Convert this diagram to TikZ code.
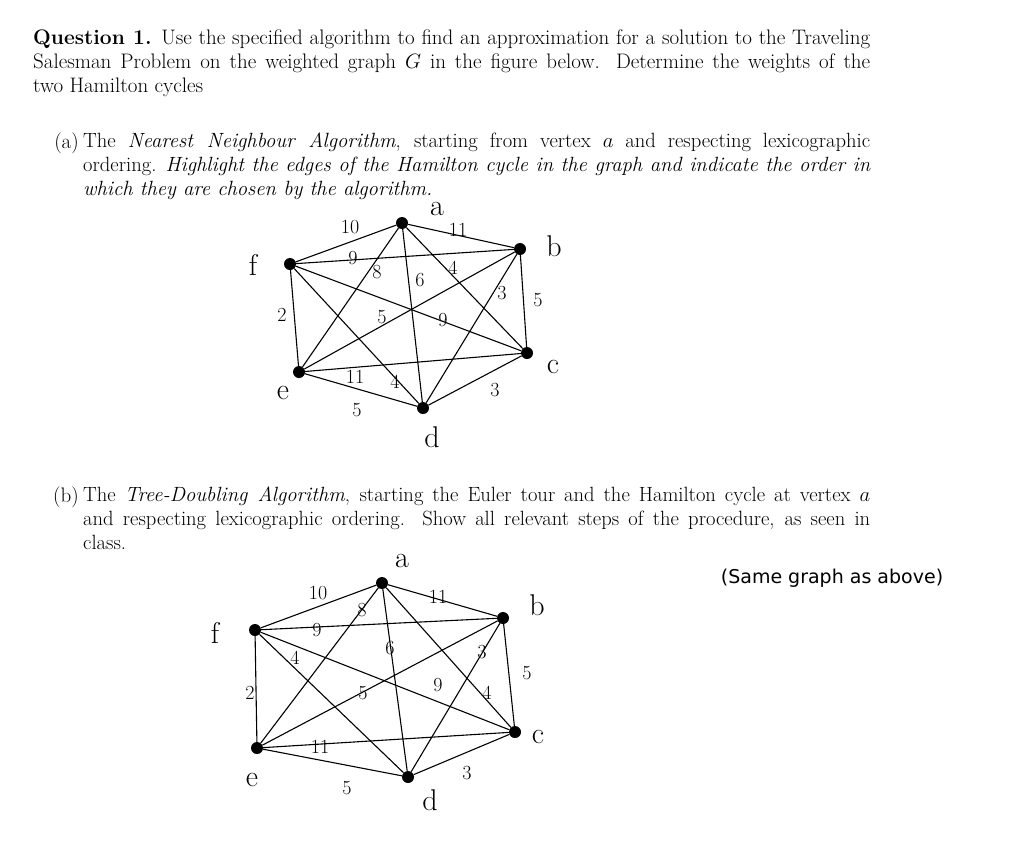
\documentclass[tikz,border=0pt]{standalone}
\usepackage{fontspec}
\newfontfamily\hand{DejaVu Sans}
\begin{document}
\begin{tikzpicture}[x=1pt,y=-1pt,
  vtx/.style={circle,fill=black,inner sep=0pt,minimum size=12pt},
  edge/.style={line width=1.1pt},
  wt/.style={font=\fontsize{20}{20}\selectfont,inner sep=0pt},
  vl/.style={font=\fontsize{30}{30}\selectfont,inner sep=0pt},
  para/.style={anchor=north west,inner sep=0pt,align=justify,font=\fontsize{21}{24}\selectfont}]
\useasboundingbox (0,0) rectangle (1024,841);
\node[para,text width=837pt] (q) at (33,30) {\textbf{Question 1.} Use the specified algorithm to find an approximation for a solution to the Traveling\linebreak Salesman Problem on the weighted graph $G$ in the figure below. Determine the weights of the\linebreak two Hamilton cycles};
\node[para,anchor=north east] (la) at (79,133) {(a)};
\node[para,text width=787pt,font=\fontsize{20.6}{24}\selectfont] (ta) at (83,133) {\hyphenpenalty=10000 The \textit{Nearest Neighbour Algorithm}, starting from vertex $a$ and respecting lexicographic\linebreak ordering. \textit{Highlight the edges of the Hamilton cycle in the graph and indicate the order in\linebreak which they are chosen by the algorithm.}};
\node[para,anchor=north east] (lb) at (79,487) {(b)};
\node[para,text width=787pt,font=\fontsize{20.6}{24}\selectfont] (tb) at (83,487) {\hyphenpenalty=10000 The \textit{Tree-Doubling Algorithm}, starting the Euler tour and the Hamilton cycle at vertex $a$\linebreak and respecting lexicographic ordering. Show all relevant steps of the procedure, as seen in\linebreak class.};
% graph 1
\node[vtx] (a1) at (402,223) {};
\node[vtx] (b1) at (520,249) {};
\node[vtx] (c1) at (527,353) {};
\node[vtx] (d1) at (423,408) {};
\node[vtx] (e1) at (299,372) {};
\node[vtx] (f1) at (290,264) {};
\foreach \u/\v in {a1/b1,a1/c1,a1/d1,a1/e1,a1/f1,b1/c1,b1/d1,b1/e1,b1/f1,c1/d1,c1/e1,c1/f1,d1/e1,d1/f1,e1/f1}
  \draw[edge] (\u) -- (\v);
\node[vl] (la1) at (437,209) {a};
\node[vl] (lb1) at (554,246) {b};
\node[vl] (lc1) at (553,367) {c};
\node[vl] (ld1) at (432,437) {d};
\node[vl] (le1) at (283,393) {e};
\node[vl] (lf1) at (253,265) {f};
\foreach \t/\x/\y [count=\i] in {10/350/227,11/458/230,9/353/258,8/377/272,6/420/280,4/453/268,3/502/293,5/538/300,2/282/315,5/382/317,9/443/320,11/355/377,4/395/382,5/357/410,3/495/390}
  \node[wt] (w1\i) at (\x,\y) {\t};
% graph 2
\node[vtx] (a2) at (382,583) {};
\node[vtx] (b2) at (503,618) {};
\node[vtx] (c2) at (515,732) {};
\node[vtx] (d2) at (408,777) {};
\node[vtx] (e2) at (257,748) {};
\node[vtx] (f2) at (255,630) {};
\foreach \u/\v in {a2/b2,a2/c2,a2/d2,a2/e2,a2/f2,b2/c2,b2/d2,b2/e2,b2/f2,c2/d2,c2/e2,c2/f2,d2/e2,d2/f2,e2/f2}
  \draw[edge] (\u) -- (\v);
\node[vl] (la2) at (402,561) {a};
\node[vl] (lb2) at (537,605) {b};
\node[vl] (lc2) at (538,737) {c};
\node[vl] (ld2) at (430,800) {d};
\node[vl] (le2) at (252,780) {e};
\node[vl] (lf2) at (215,633) {f};
\foreach \t/\x/\y [count=\i] in {10/318/593,11/438/597,8/362/610,9/317/630,6/390/648,4/295/658,3/482/652,5/527/673,2/250/693,5/363/693,9/438/685,4/487/693,11/320/747,5/347/788,3/467/773}
  \node[wt] (w2\i) at (\x,\y) {\t};
\node[font=\hand\fontsize{19}{19}\selectfont,inner sep=0pt] (same) at (832,578) {(Same graph as above)};
\end{tikzpicture}
\end{document}
